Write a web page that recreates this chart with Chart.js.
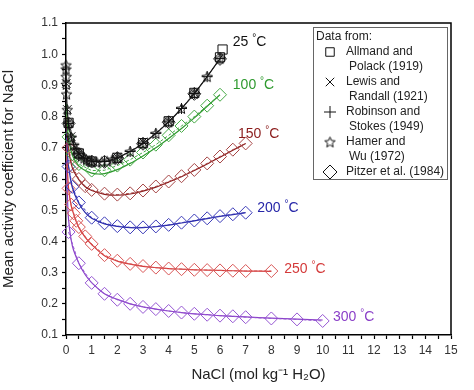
<!DOCTYPE html>
<html>
<head>
<meta charset="utf-8">
<script src="https://cdn.jsdelivr.net/npm/chart.js@4.4.1/dist/chart.umd.min.js"></script>
<style>
  html, body { margin: 0; padding: 0; background: #fff; }
  canvas { display: block; }
</style>
</head>
<body>
<canvas id="grafica" width="474" height="390"></canvas>
<script>
/* ====== DATOS ====== */
// 25 °C - curva del modelo
const m25Linea = [0.001, 0.005, 0.01, 0.02, 0.05, 0.1, 0.2, 0.3, 0.5, 0.7, 1, 1.5, 2, 2.5, 3, 3.5, 4, 4.5, 5, 5.5, 6, 6.1];
const g25Linea = [0.965, 0.928, 0.903, 0.872, 0.822, 0.778, 0.735, 0.710, 0.681, 0.667, 0.657, 0.656, 0.668, 0.688, 0.714, 0.746, 0.783, 0.826, 0.874, 0.928, 0.986, 0.998];

// Allmand and Polack (1919)
const mAllmand = [0.1, 0.5, 1, 2, 3, 4, 5, 6, 6.1];
const gAllmand = [0.780, 0.682, 0.656, 0.668, 0.715, 0.785, 0.876, 0.990, 1.015];
// Lewis and Randall (1921)
const mLewis = [0.01, 0.05, 0.1, 0.2, 0.5, 1, 2, 3, 4, 5];
const gLewis = [0.906, 0.823, 0.780, 0.736, 0.682, 0.658, 0.670, 0.719, 0.785, 0.876];
// Robinson and Stokes (1949)
const mRobinson = [0.1, 0.2, 0.3, 0.5, 0.7, 1, 1.5, 2, 2.5, 3, 3.5, 4, 4.5, 5, 5.5, 6];
const gRobinson = [0.778, 0.735, 0.710, 0.681, 0.667, 0.657, 0.656, 0.668, 0.688, 0.714, 0.746, 0.783, 0.826, 0.874, 0.928, 0.986];
// Hamer and Wu (1972)
const mHamer = [0.001, 0.002, 0.005, 0.01, 0.02, 0.05, 0.1, 0.2, 0.3, 0.4, 0.5, 0.6, 0.7, 0.8, 0.9, 1, 1.2, 1.4, 1.6, 1.8, 2, 2.5, 3, 3.5, 4, 4.5, 5, 5.5, 6];
const gHamer = [0.965, 0.952, 0.928, 0.903, 0.872, 0.822, 0.779, 0.734, 0.709, 0.693, 0.681, 0.673, 0.667, 0.662, 0.659, 0.657, 0.654, 0.655, 0.657, 0.662, 0.668, 0.688, 0.714, 0.746, 0.783, 0.826, 0.874, 0.928, 0.986];
// Pitzer et al. (1984) 25 °C
const mPitzer25 = [0.1, 0.5, 1, 1.5, 2, 3, 4, 5, 6];
const gPitzer25 = [0.778, 0.680, 0.656, 0.655, 0.667, 0.713, 0.782, 0.873, 0.985];

// 100 °C
const m100Linea = [0.02, 0.05, 0.1, 0.25, 0.5, 0.75, 1, 1.25, 1.5, 2, 2.5, 3, 3.5, 4, 4.5, 5, 5.5, 6];
const g100Linea = [0.84, 0.78, 0.73, 0.675, 0.642, 0.627, 0.619, 0.616, 0.617, 0.630, 0.650, 0.674, 0.700, 0.730, 0.762, 0.796, 0.833, 0.870];
const mPitzer100 = [0.1, 0.25, 0.5, 1, 1.5, 2, 2.5, 3, 3.5, 4, 4.5, 5, 5.5, 6];
const gPitzer100 = [0.735, 0.680, 0.648, 0.627, 0.628, 0.643, 0.662, 0.685, 0.710, 0.740, 0.770, 0.800, 0.835, 0.870];

// 150 °C
const m150Linea = [0.02, 0.05, 0.1, 0.25, 0.5, 0.75, 1, 1.5, 2, 2.5, 3, 3.5, 4, 4.5, 5, 5.5, 6, 6.5, 7];
const g150Linea = [0.80, 0.745, 0.695, 0.635, 0.598, 0.575, 0.563, 0.551, 0.548, 0.552, 0.561, 0.574, 0.590, 0.607, 0.627, 0.648, 0.670, 0.692, 0.714];
const mPitzer150 = [0.1, 0.25, 0.5, 0.75, 1, 1.5, 2, 2.5, 3, 3.5, 4, 4.5, 5, 5.5, 6, 6.5, 7];
const gPitzer150 = [0.700, 0.640, 0.600, 0.577, 0.565, 0.553, 0.550, 0.554, 0.563, 0.576, 0.592, 0.609, 0.629, 0.650, 0.672, 0.694, 0.714];

// 200 °C
const m200Linea = [0.02, 0.05, 0.1, 0.25, 0.5, 0.75, 1, 1.5, 2, 2.5, 3, 3.5, 4, 4.5, 5, 5.5, 6, 6.5, 7];
const g200Linea = [0.76, 0.695, 0.640, 0.572, 0.522, 0.492, 0.474, 0.456, 0.448, 0.444, 0.444, 0.447, 0.452, 0.459, 0.466, 0.473, 0.480, 0.486, 0.492];
const mPitzer200 = [0.1, 0.25, 0.5, 1, 1.5, 2, 2.5, 3, 3.5, 4, 4.5, 5, 5.5, 6, 6.5, 7];
const gPitzer200 = [0.640, 0.575, 0.525, 0.476, 0.458, 0.449, 0.445, 0.445, 0.448, 0.453, 0.460, 0.467, 0.474, 0.481, 0.487, 0.492];

// 250 °C
const m250Linea = [0.02, 0.05, 0.1, 0.2, 0.3, 0.4, 0.5, 0.75, 1, 1.5, 2, 2.5, 3, 3.5, 4, 4.5, 5, 5.5, 6, 6.5, 7, 8];
const g250Linea = [0.72, 0.640, 0.570, 0.515, 0.487, 0.463, 0.444, 0.413, 0.390, 0.354, 0.337, 0.327, 0.320, 0.316, 0.313, 0.311, 0.309, 0.308, 0.307, 0.306, 0.305, 0.304];
const mPitzer250 = [0.1, 0.2, 0.3, 0.4, 0.5, 0.75, 1, 1.5, 2, 2.5, 3, 3.5, 4, 4.5, 5, 5.5, 6, 6.5, 7, 8];
const gPitzer250 = [0.570, 0.518, 0.490, 0.466, 0.446, 0.416, 0.392, 0.356, 0.338, 0.328, 0.321, 0.316, 0.313, 0.311, 0.309, 0.308, 0.307, 0.306, 0.305, 0.305];

// 300 °C
const m300Linea = [0.02, 0.05, 0.1, 0.25, 0.5, 0.75, 1, 1.5, 2, 2.5, 3, 3.5, 4, 4.5, 5, 5.5, 6, 6.5, 7, 8, 9, 10];
const g300Linea = [0.66, 0.560, 0.470, 0.385, 0.330, 0.293, 0.268, 0.232, 0.214, 0.200, 0.190, 0.183, 0.177, 0.172, 0.168, 0.165, 0.162, 0.160, 0.158, 0.154, 0.151, 0.148];
const mPitzer300 = [0.1, 0.5, 1, 1.5, 2, 2.5, 3, 3.5, 4, 4.5, 5, 5.5, 6, 6.5, 7, 8, 9, 10];
const gPitzer300 = [0.430, 0.330, 0.267, 0.232, 0.213, 0.200, 0.190, 0.183, 0.177, 0.172, 0.168, 0.165, 0.162, 0.160, 0.157, 0.153, 0.150, 0.145];

const temperaturas = ["25", "100", "150", "200", "250", "300"];
const coloresLinea = ["#111111", "#2f9a2f", "#8b1c1c", "#2626a8", "#d43a3a", "#8a3fc8"];
const coloresDiamante = ["#222222", "#44a844", "#a54545", "#3a3ab8", "#d85555", "#9556d2"];

const fuente = "'Liberation Sans', Arial, sans-serif";

/* ====== UTILIDADES ====== */
function puntos(m, g) {
  return m.map((x, i) => ({ x: x, y: g[i] }));
}

// Estrella de 5 puntas hueca (Chart.js solo trae el asterisco)
function crearEstrella(radio) {
  const lado = Math.ceil(radio * 2 + 2);
  const c = document.createElement("canvas");
  c.width = lado;
  c.height = lado;
  const ctx = c.getContext("2d");
  const cx = lado / 2, cy = lado / 2 + 0.5;
  ctx.beginPath();
  for (let i = 0; i < 10; i++) {
    const r = i % 2 === 0 ? radio : radio * 0.45;
    const ang = -Math.PI / 2 + i * Math.PI / 5;
    const px = cx + r * Math.cos(ang), py = cy + r * Math.sin(ang);
    if (i === 0) ctx.moveTo(px, py); else ctx.lineTo(px, py);
  }
  ctx.closePath();
  ctx.strokeStyle = "#111";
  ctx.lineWidth = 1;
  ctx.stroke();
  return c;
}
const estrella = crearEstrella(5.5);

function serieLinea(m, g, color) {
  return {
    data: puntos(m, g), showLine: true, borderColor: color, borderWidth: 1.2,
    pointRadius: 0, fill: false, tension: 0.3, clip: false
  };
}

function seriePitzer(m, g, color) {
  return {
    data: puntos(m, g), showLine: true, borderColor: color, borderWidth: 1,
    borderDash: [3, 2], pointStyle: "rectRot", pointRadius: 6.5,
    pointBorderColor: color, pointBackgroundColor: "rgba(0,0,0,0)", pointBorderWidth: 1,
    clip: false
  };
}

function serieMarcador(m, g, estilo, radio) {
  return {
    data: puntos(m, g), showLine: false, pointStyle: estilo, pointRadius: radio,
    pointBorderColor: "#111", pointBackgroundColor: "rgba(0,0,0,0)", pointBorderWidth: 1,
    clip: false
  };
}

/* ====== PLUGINS ====== */
// Marco superior y derecho
const marco = {
  id: "marco",
  afterDraw(chart) {
    const { ctx, chartArea: a } = chart;
    ctx.save();
    ctx.strokeStyle = "#000";
    ctx.lineWidth = 1.5;
    ctx.beginPath();
    ctx.moveTo(a.left, a.top);
    ctx.lineTo(a.right, a.top);
    ctx.lineTo(a.right, a.bottom);
    ctx.stroke();
    ctx.restore();
  }
};

// Etiquetas de temperatura junto a cada curva
const etiquetas = {
  id: "etiquetas",
  afterDatasetsDraw(chart) {
    const { ctx, scales } = chart;
    const anclas = [[6.5, 1.039], [6.5, 0.901], [6.7, 0.744], [7.45, 0.507], [8.5, 0.312], [10.4, 0.158]];
    ctx.save();
    ctx.textBaseline = "middle";
    temperaturas.forEach((t, i) => {
      let x = scales.x.getPixelForValue(anclas[i][0]);
      const y = scales.y.getPixelForValue(anclas[i][1]);
      ctx.fillStyle = coloresLinea[i];
      ctx.font = "14px " + fuente;
      ctx.fillText(t + " ", x, y);
      x += ctx.measureText(t + " ").width;
      ctx.font = "10px " + fuente;
      ctx.fillText("°", x, y - 4);
      x += ctx.measureText("°").width;
      ctx.font = "14px " + fuente;
      ctx.fillText("C", x, y);
    });
    ctx.restore();
  }
};

// Leyenda con referencias de datos
const leyenda = {
  id: "leyenda",
  afterDraw(chart) {
    const ctx = chart.ctx;
    ctx.save();
    ctx.strokeStyle = "#666";
    ctx.lineWidth = 1;
    ctx.strokeRect(313.5, 27.5, 134, 152);
    ctx.fillStyle = "#222";
    ctx.font = "12px " + fuente;
    ctx.textBaseline = "middle";
    ctx.fillText("Data from:", 316, 37);
    const filas = [
      ["Allmand and", "Polack (1919)", "rect", 6],
      ["Lewis and", "Randall (1921)", "crossRot", 6],
      ["Robinson and", "Stokes (1949)", "cross", 6],
      ["Hamer and", "Wu (1972)", estrella, 5.5],
      ["Pitzer et al. (1984)", null, "rectRot", 7]
    ];
    filas.forEach((f, i) => {
      const y = 52 + i * 30;
      ctx.fillStyle = "#222";
      ctx.fillText(f[0], 346, y);
      if (f[1]) ctx.fillText(f[1], 349, y + 15);
      ctx.strokeStyle = "#111";
      ctx.fillStyle = "rgba(0,0,0,0)";
      Chart.helpers.drawPoint(ctx, { pointStyle: f[2], radius: f[3], rotation: 0, borderWidth: 1 }, 330, y);
    });
    ctx.restore();
  }
};

/* ====== GRÁFICA ====== */
const datasets = [
  serieMarcador(mAllmand, gAllmand, "rect", 6.5),
  serieMarcador(mLewis, gLewis, "crossRot", 6),
  serieMarcador(mRobinson, gRobinson, "cross", 5.5),
  serieMarcador(mHamer, gHamer, estrella, 5.5),
  seriePitzer(mPitzer25, gPitzer25, coloresDiamante[0]),
  serieLinea(m25Linea, g25Linea, coloresLinea[0]),
  seriePitzer(mPitzer100, gPitzer100, coloresDiamante[1]),
  serieLinea(m100Linea, g100Linea, coloresLinea[1]),
  seriePitzer(mPitzer150, gPitzer150, coloresDiamante[2]),
  serieLinea(m150Linea, g150Linea, coloresLinea[2]),
  seriePitzer(mPitzer200, gPitzer200, coloresDiamante[3]),
  serieLinea(m200Linea, g200Linea, coloresLinea[3]),
  seriePitzer(mPitzer250, gPitzer250, coloresDiamante[4]),
  serieLinea(m250Linea, g250Linea, coloresLinea[4]),
  seriePitzer(mPitzer300, gPitzer300, coloresDiamante[5]),
  serieLinea(m300Linea, g300Linea, coloresLinea[5])
];

new Chart(document.getElementById("grafica"), {
  type: "scatter",
  data: { datasets },
  options: {
    responsive: false,
    animation: false,
    layout: { padding: { top: 23, right: 23, left: 0, bottom: 0 } },
    plugins: { legend: { display: false }, tooltip: { enabled: false } },
    scales: {
      x: {
        type: "linear", min: 0, max: 15,
        afterFit: (s) => { s.height = 55; },
        border: { color: "#000", width: 1.5 },
        grid: { display: true, drawOnChartArea: false, tickLength: 4, color: "#000", tickWidth: 1.2 },
        ticks: {
          stepSize: 0.5, autoSkip: false, maxRotation: 0, padding: 4,
          color: "#333", font: { size: 12, family: fuente },
          callback: (v) => (Number.isInteger(v) ? String(v) : "")
        },
        title: {
          display: true, text: "NaCl (mol kg\u207B\u00B9 H\u2082O)",
          color: "#222", font: { size: 15, family: fuente }, padding: { top: 0, bottom: 6 }
        }
      },
      y: {
        type: "linear", min: 0.1, max: 1.1,
        afterFit: (s) => { s.width = 66; },
        border: { color: "#000", width: 1.5 },
        grid: { display: true, drawOnChartArea: false, tickLength: 4, color: "#000", tickWidth: 1.2 },
        ticks: {
          stepSize: 0.05, autoSkip: false, padding: 4,
          color: "#333", font: { size: 12, family: fuente },
          callback: (v) => {
            const d = Math.round(v * 100);
            return d % 10 === 0 ? (d / 100).toFixed(1) : "";
          }
        },
        title: {
          display: true, text: "Mean activity coefficient for NaCl",
          color: "#222", font: { size: 15, family: fuente }, padding: { top: 0, bottom: 4 }
        }
      }
    }
  },
  plugins: [marco, etiquetas, leyenda]
});
</script>
</body>
</html>
